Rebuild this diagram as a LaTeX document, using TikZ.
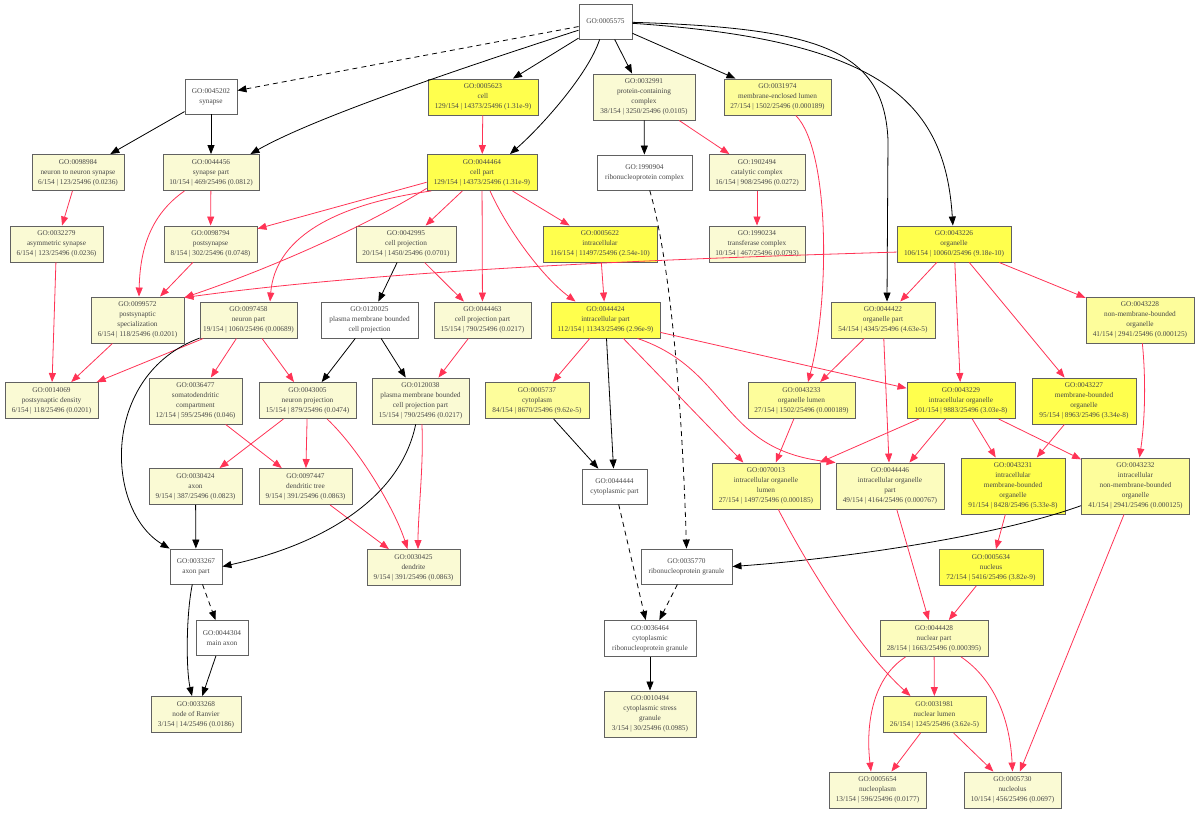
\documentclass[tikz,border=0pt]{standalone}
\usepackage{fontspec}
\setmainfont{Liberation Serif}
\usetikzlibrary{arrows.meta}

\definecolor{hotfill}{RGB}{255,255,77}
\definecolor{midfill}{RGB}{253,253,155}
\definecolor{litefill}{RGB}{252,252,190}
\definecolor{palefill}{RGB}{250,250,212}
\definecolor{partred}{RGB}{255,51,85}
\newcommand{\gofont}{\fontsize{7.3}{10}\selectfont}

\tikzstyle{goterm} = [rectangle,
	minimum height=35pt,
	inner xsep=2pt,
	inner ysep=4.8pt,
	align=center,
	font=\gofont,
	text=black!72,
	draw=black!62,
	line width=0.9pt
	]
\tikzstyle{blankterm} = [goterm, fill=white]
\tikzstyle{paleterm} = [goterm, fill=palefill]
\tikzstyle{liteterm} = [goterm, fill=litefill]
\tikzstyle{midterm} = [goterm, fill=midfill]
\tikzstyle{hotterm} = [goterm, fill=hotfill]
\tikzstyle{isa} = [draw=black, line width=0.8pt, -{Triangle[length=9pt,width=7pt]}]
\tikzstyle{dashedge} = [isa, dash pattern=on 5pt off 4pt]
\tikzstyle{partof} = [draw=partred, line width=0.8pt, -{Triangle[length=9pt,width=7pt]}]

\begin{document}
\begin{tikzpicture}[x=1pt, y=-1pt]
\useasboundingbox (0,0) rectangle (1200,814);

\node (root) [blankterm, minimum width=53pt] at (605.5,21.5) {GO:0005575};

\node (syn) [blankterm, minimum width=52pt] at (211,96.5) {GO:0045202\\synapse};
\node (cell) [hotterm, minimum width=110pt] at (483,97) {GO:0005623\\cell\\129/154 | 14373/25496 (1.31e-9)};
\node (pcc) [paleterm, minimum width=102pt] at (644,97) {GO:0032991\\protein-containing\\complex\\38/154 | 3250/25496 (0.0105)};
\node (mel) [midterm, minimum width=107pt] at (777.5,97) {GO:0031974\\membrane-enclosed lumen\\27/154 | 1502/25496 (0.000189)};

\node (n2n) [paleterm, minimum width=92pt] at (78,172.5) {GO:0098984\\neuron to neuron synapse\\6/154 | 123/25496 (0.0236)};
\node (synp) [paleterm, minimum width=96pt] at (211,172.5) {GO:0044456\\synapse part\\10/154 | 469/25496 (0.0812)};
\node (cp) [hotterm, minimum width=110pt] at (482,172.5) {GO:0044464\\cell part\\129/154 | 14373/25496 (1.31e-9)};
\node (rnpc) [blankterm, minimum width=95pt] at (644.5,172.5) {GO:1990904\\ribonucleoprotein complex};
\node (cat) [paleterm, minimum width=96pt] at (757,172.5) {GO:1902494\\catalytic complex\\16/154 | 908/25496 (0.0272)};

\node (asym) [paleterm, minimum width=93pt] at (56.5,244) {GO:0032279\\asymmetric synapse\\6/154 | 123/25496 (0.0236)};
\node (post) [paleterm, minimum width=93pt] at (210.5,244) {GO:0098794\\postsynapse\\8/154 | 302/25496 (0.0748)};
\node (cproj) [paleterm, minimum width=100pt] at (406,244) {GO:0042995\\cell projection\\20/154 | 1450/25496 (0.0701)};
\node (intra) [hotterm, minimum width=114pt] at (600,244) {GO:0005622\\intracellular\\116/154 | 11497/25496 (2.54e-10)};
\node (trans) [paleterm, minimum width=96pt] at (757,244) {GO:1990234\\transferase complex\\10/154 | 467/25496 (0.0793)};
\node (org) [hotterm, minimum width=114pt] at (954,244) {GO:0043226\\organelle\\106/154 | 10060/25496 (9.18e-10)};

\node (psd) [paleterm, minimum width=93pt] at (137.5,320) {GO:0099572\\postsynaptic\\specialization\\6/154 | 118/25496 (0.0201)};
\node (npart) [paleterm, minimum width=97pt] at (248.5,320) {GO:0097458\\neuron part\\19/154 | 1060/25496 (0.00689)};
\node (pmbcp) [blankterm, minimum width=97pt] at (369.5,320) {GO:0120025\\plasma membrane bounded\\cell projection};
\node (cpp) [paleterm, minimum width=97pt] at (482.5,320) {GO:0044463\\cell projection part\\15/154 | 790/25496 (0.0217)};
\node (icp) [hotterm, minimum width=109pt] at (605.5,320) {GO:0044424\\intracellular part\\112/154 | 11343/25496 (2.96e-9)};
\node (op) [midterm, minimum width=104pt] at (883,320) {GO:0044422\\organelle part\\54/154 | 4345/25496 (4.63e-5)};
\node (nmbo) [midterm, minimum width=108pt] at (1140,320) {GO:0043228\\non-membrane-bounded\\organelle\\41/154 | 2941/25496 (0.000125)};

\node (psden) [paleterm, minimum width=93pt] at (51.5,400.5) {GO:0014069\\postsynaptic density\\6/154 | 118/25496 (0.0201)};
\node (somato) [paleterm, minimum width=93pt] at (195.5,401) {GO:0036477\\somatodendritic\\compartment\\12/154 | 595/25496 (0.046)};
\node (nproj) [paleterm, minimum width=97pt] at (307.5,400.5) {GO:0043005\\neuron projection\\15/154 | 879/25496 (0.0474)};
\node (pmbcpp) [paleterm, minimum width=97pt] at (420.5,401) {GO:0120038\\plasma membrane bounded\\cell projection part\\15/154 | 790/25496 (0.0217)};
\node (cyto) [midterm, minimum width=104pt] at (537,400.5) {GO:0005737\\cytoplasm\\84/154 | 8670/25496 (9.62e-5)};
\node (olumen) [midterm, minimum width=107pt] at (801.5,400.5) {GO:0043233\\organelle lumen\\27/154 | 1502/25496 (0.000189)};
\node (iorg) [hotterm, minimum width=108pt] at (961,400.5) {GO:0043229\\intracellular organelle\\101/154 | 9883/25496 (3.03e-8)};
\node (mbo) [hotterm, minimum width=104pt] at (1084,401) {GO:0043227\\membrane-bounded\\organelle\\95/154 | 8963/25496 (3.34e-8)};

\node (axon) [paleterm, minimum width=93pt] at (195.5,486.5) {GO:0030424\\axon\\9/154 | 387/25496 (0.0823)};
\node (dtree) [paleterm, minimum width=93pt] at (305.5,486.5) {GO:0097447\\dendritic tree\\9/154 | 391/25496 (0.0863)};
\node (cpart) [blankterm, minimum width=65pt] at (614.5,486.5) {GO:0044444\\cytoplasmic part};
\node (iolumen) [midterm, minimum width=108pt] at (766,486) {GO:0070013\\intracellular organelle\\lumen\\27/154 | 1497/25496 (0.000185)};
\node (iopart) [liteterm, minimum width=108pt] at (890,486) {GO:0044446\\intracellular organelle\\part\\49/154 | 4164/25496 (0.000767)};
\node (imbo) [hotterm, minimum width=104pt] at (1013,486) {GO:0043231\\intracellular\\membrane-bounded\\organelle\\91/154 | 8428/25496 (5.33e-8)};
\node (inmbo) [midterm, minimum width=108pt] at (1135.5,486) {GO:0043232\\intracellular\\non-membrane-bounded\\organelle\\41/154 | 2941/25496 (0.000125)};

\node (apart) [blankterm, minimum width=52pt] at (196,566.5) {GO:0033267\\axon part};
\node (dend) [paleterm, minimum width=93pt] at (413.5,567.5) {GO:0030425\\dendrite\\9/154 | 391/25496 (0.0863)};
\node (rnpg) [blankterm, minimum width=91pt] at (686.5,566.5) {GO:0035770\\ribonucleoprotein granule};
\node (nucleus) [hotterm, minimum width=104pt] at (991,567.5) {GO:0005634\\nucleus\\72/154 | 5416/25496 (3.82e-9)};

\node (maxon) [blankterm, minimum width=52pt] at (222,638) {GO:0044304\\main axon};
\node (crnpg) [blankterm, minimum width=92pt] at (650,638.5) {GO:0036464\\cytoplasmic\\ribonucleoprotein granule};
\node (nucpart) [liteterm, minimum width=108pt] at (934,638.5) {GO:0044428\\nuclear part\\28/154 | 1663/25496 (0.000395)};

\node (ranvier) [paleterm, minimum width=90pt] at (196,714.5) {GO:0033268\\node of Ranvier\\3/154 | 14/25496 (0.0186)};
\node (sgran) [paleterm, minimum width=92pt] at (650,714) {GO:0010494\\cytoplasmic stress\\granule\\3/154 | 30/25496 (0.0985)};
\node (nlumen) [midterm, minimum width=103pt] at (934.5,714.5) {GO:0031981\\nuclear lumen\\26/154 | 1245/25496 (3.62e-5)};

\node (nplasm) [paleterm, minimum width=97pt] at (877.5,790) {GO:0005654\\nucleoplasm\\13/154 | 596/25496 (0.0177)};
\node (nucleolus) [paleterm, minimum width=97pt] at (1012.5,790) {GO:0005730\\nucleolus\\10/154 | 456/25496 (0.0697)};


\draw [dashedge] (root) -- ([yshift=6pt]syn.east);
\draw [isa] (root) .. controls (440,75) and (310,120) .. ([xshift=-9pt]synp.north east);
\draw [isa] (root) -- (cell);
\draw [isa] (root) .. controls (588,75) and (540,128) .. ([xshift=28pt]cp.north);
\draw [isa] (root) -- (pcc);
\draw [isa] (root) -- (mel);
\draw [isa] (root) .. controls (880,40) and (945,100) .. (org);
\draw [isa] (root) .. controls (820,28) and (884,50) .. (888,140) -- ([xshift=4pt]op.north);

\draw [isa] (syn) -- (n2n);
\draw [isa] (syn) -- (synp);
\draw [partof] (n2n) -- (asym);
\draw [partof] (synp) -- (post);
\draw [partof] (synp) .. controls (150,215) and (140,250) .. ([xshift=1.5pt]psd.north);
\draw [partof] (asym) -- (psden);
\draw [partof] (post) -- (psd);
\draw [partof] (psd) -- (psden);

\draw [partof] (cell) -- (cp);
\draw [partof] (cp.190) -- (post.18);
\draw [partof] (cp.196) .. controls (360,230) and (260,272) .. ([yshift=-1pt]psd.north east);
\draw [partof] (cp.200) .. controls (330,205) and (275,240) .. ([xshift=21.5pt]npart.north);
\draw [partof] (cp) -- (cproj);
\draw [partof] (cp) -- (cpp);
\draw [partof] (cp) -- (intra);
\draw [partof] (cp) .. controls (505,225) and (540,275) .. ([xshift=-30pt]icp.north);

\draw [isa] (cproj) -- (pmbcp);
\draw [partof] (cproj) -- (cpp);
\draw [partof] (cpp) -- (pmbcpp);
\draw [isa] (pmbcp) -- (nproj);
\draw [isa] (pmbcp) -- (pmbcpp);

\draw [partof] (npart) -- (psden);
\draw [partof] (npart) -- (somato);
\draw [partof] (npart) -- (nproj);
\draw [isa] (npart) .. controls (100,375) and (105,510) .. (apart.north west);
\draw [partof] (somato) -- (dtree);
\draw [partof] (nproj) -- (axon);
\draw [partof] (nproj) -- (dtree);
\draw [partof] (nproj) .. controls (360,450) and (395,510) .. ([xshift=-6pt]dend.north);
\draw [partof] (dtree) -- (dend);
\draw [partof] (pmbcpp) .. controls (424,460) and (418,515) .. ([xshift=4.5pt]dend.north);
\draw [isa] (pmbcpp) .. controls (400,500) and (320,545) .. (apart.east);
\draw [isa] (axon) -- (apart);
\draw [isa] (apart) .. controls (186,615) and (186,670) .. ([xshift=-4pt]ranvier.north);
\draw [dashedge] (apart) -- (maxon);
\draw [isa] (maxon) -- (ranvier);

\draw [isa] (pcc) -- (rnpc);
\draw [partof] (pcc) -- (cat);
\draw [partof] (cat) -- (trans);
\draw [dashedge] (rnpc) .. controls (670,260) and (682,400) .. (rnpg.north);
\draw [partof] (mel) .. controls (830,150) and (830,300) .. ([xshift=6.5pt]olumen.north);

\draw [partof] (intra) -- (icp);
\draw [partof] (icp) -- (cyto);
\draw [isa] (icp) -- (cpart);
\draw [partof] (icp) -- (iorg);
\draw [partof] (icp) -- (iolumen);
\draw [partof] ([xshift=32pt]icp.south) .. controls (730,370) and (720,450) .. (iopart.north west);
\draw [isa] (cyto) -- (cpart);
\draw [dashedge] (cpart) -- (crnpg);
\draw [dashedge] (rnpg) -- (crnpg);
\draw [isa] (crnpg) -- (sgran);

\draw [partof] (org) -- (op);
\draw [partof] (org) -- (iorg);
\draw [partof] (org) -- (mbo);
\draw [partof] (org) -- (nmbo);
\draw [partof] (org.188) .. controls (700,258) and (400,268) .. ([yshift=-1pt]psd.north east);
\draw [partof] (op) -- (olumen);
\draw [partof] (op) -- (iopart);
\draw [partof] (olumen) -- (iolumen);
\draw [partof] (iorg) -- (iolumen);
\draw [partof] (iorg) -- (iopart);
\draw [partof] (iorg) -- (imbo);
\draw [partof] (iorg) -- (inmbo);
\draw [partof] (mbo) -- (imbo);
\draw [partof] (nmbo) .. controls (1146,380) and (1145,420) .. ([xshift=4pt]inmbo.north);
\draw [isa] (inmbo) .. controls (1000,535) and (850,558) .. (rnpg.east);
\draw [partof] (inmbo) -- (nucleolus);
\draw [partof] (imbo) -- (nucleus);
\draw [partof] (iopart) -- (nucpart);
\draw [partof] (nucleus) -- (nucpart);
\draw [partof] (iolumen) .. controls (810,570) and (860,650) .. ([xshift=-24pt]nlumen.north);
\draw [partof] (nucpart) -- (nlumen);
\draw [partof] (nucpart) .. controls (870,680) and (866,730) .. ([xshift=-6.5pt]nplasm.north);
\draw [partof] (nucpart) .. controls (995,680) and (1010,720) .. (nucleolus.north);
\draw [partof] (nlumen) -- (nplasm);
\draw [partof] (nlumen) -- (nucleolus);

\end{tikzpicture}
\end{document}
